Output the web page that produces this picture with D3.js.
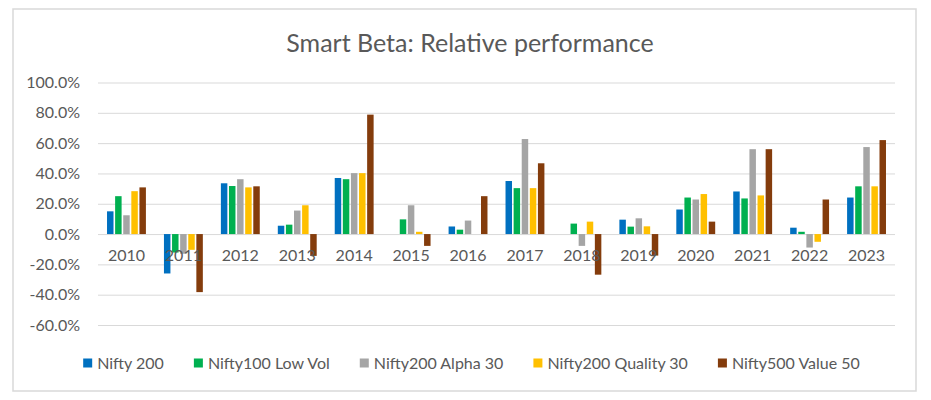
<!DOCTYPE html>
<html>
<head>
<meta charset="utf-8">
<script src="https://cdn.jsdelivr.net/npm/d3@7"></script>
<style>
  html, body { margin: 0; padding: 0; background: #fff; }
  svg { display: block; font-family: Lato, "Open Sans", sans-serif; }
</style>
</head>
<body>
<svg id="chart" width="931" height="400"></svg>
<script>
const years = ["2010", "2011", "2012", "2013", "2014", "2015", "2016",
  "2017", "2018", "2019", "2020", "2021", "2022", "2023"];
const seriesNames = ["Nifty 200", "Nifty100 Low Vol", "Nifty200 Alpha 30",
  "Nifty200 Quality 30", "Nifty500 Value 50"];
const nifty200 = [15, -26, 33.5, 5.5, 37, 0, 5, 35, 0, 9.5, 16.2, 28.1, 4.2, 24.1];
const lowVol = [25, -12.2, 31.7, 6.2, 36.2, 9.7, 2.9, 30.3, 6.9, 4.9, 24.1, 23.5, 1.5, 31.5];
const alpha30 = [12.4, -13, 36.2, 15.5, 40.2, 19, 8.9, 62.7, -7.8, 10.4, 22.8, 56, -8.9, 57.4];
const quality30 = [28.3, -10.4, 30.8, 19, 40.2, 1.5, 0, 30.3, 8.2, 5.1, 26.4, 25.5, -5.1, 31.5];
const value50 = [30.8, -38.3, 31.5, -14.4, 78.8, -7.8, 25, 46.7, -26.8, -14.2, 8.2, 56, 22.8, 62];
const yTicks = [-60, -40, -20, 0, 20, 40, 60, 80, 100];
const colors = ["#0070C0", "#00B050", "#A5A5A5", "#FFC000", "#843C0C"];

const allSeries = [nifty200, lowVol, alpha30, quality30, value50];
const rows = years.map((y, i) => ({ year: y, values: allSeries.map(s => s[i]) }));

const svg = d3.select("#chart");
const plot = { left: 98, right: 895, top: 82.5, bottom: 325 };
const textColor = "#595959";

// chart frame
svg.append("rect")
  .attr("x", 13).attr("y", 9)
  .attr("width", 903).attr("height", 382)
  .attr("fill", "#fff")
  .attr("stroke", "#d9d9d9")
  .attr("stroke-width", 1.5);

svg.append("text")
  .attr("x", 470).attr("y", 43)
  .attr("dy", "0.35em")
  .attr("text-anchor", "middle")
  .style("font-size", "25px")
  .style("fill", textColor)
  .text("Smart Beta: Relative performance");

const x0 = d3.scaleBand()
  .domain(years)
  .range([plot.left, plot.right])
  .paddingInner(0.26)
  .paddingOuter(0.13);

const x1 = d3.scaleBand()
  .domain(d3.range(seriesNames.length))
  .range([0, x0.bandwidth()])
  .padding(0.2);

const y = d3.scaleLinear()
  .domain([-60, 100])
  .range([plot.bottom, plot.top]);

// grid lines + y labels
const yAxis = d3.axisLeft(y)
  .tickValues(yTicks)
  .tickSize(-(plot.right - plot.left))
  .tickPadding(18)
  .tickFormat(d => d.toFixed(1) + "%");

const gy = svg.append("g")
  .attr("transform", `translate(${plot.left},0)`)
  .call(yAxis);
gy.select(".domain").remove();
gy.selectAll(".tick line").attr("stroke", "#d9d9d9").attr("stroke-width", 1);
gy.selectAll(".tick text")
  .style("font-size", "16px")
  .style("fill", textColor)
  .style("font-family", "Lato, sans-serif");

// bars
const groups = svg.append("g")
  .selectAll("g")
  .data(rows)
  .join("g")
  .attr("transform", d => `translate(${x0(d.year)},0)`);

groups.selectAll("rect")
  .data(d => d.values.map((v, i) => ({ v, i })))
  .join("rect")
  .attr("x", d => x1(d.i))
  .attr("width", x1.bandwidth())
  .attr("y", d => y(Math.max(0, d.v)))
  .attr("height", d => Math.abs(y(d.v) - y(0)))
  .attr("fill", d => colors[d.i]);

// category labels sit just under the zero line
const xAxis = d3.axisBottom(x0).tickSize(0).tickPadding(16);
const gx = svg.append("g")
  .attr("transform", `translate(0,${y(0)})`)
  .call(xAxis);
gx.select(".domain").remove();
gx.selectAll(".tick text")
  .style("font-size", "16px")
  .style("fill", textColor)
  .style("font-family", "Lato, sans-serif");

// legend
const legend = svg.append("g").attr("transform", "translate(0,363)");
const items = legend.selectAll("g")
  .data(seriesNames)
  .join("g");
items.append("rect")
  .attr("width", 9).attr("height", 9)
  .attr("y", -4.5)
  .attr("fill", (d, i) => colors[i]);
items.append("text")
  .attr("x", 14)
  .attr("dy", "0.35em")
  .style("font-size", "16px")
  .style("fill", textColor)
  .text(d => d);

const gap = 30;
let cursor = 0;
const offsets = [];
items.each(function() {
  offsets.push(cursor);
  cursor += this.getBBox().width + gap;
});
const total = cursor - gap;
const startX = (84 + 859) / 2 - total / 2;
items.attr("transform", (d, i) => `translate(${startX + offsets[i]},0)`);
</script>
</body>
</html>
